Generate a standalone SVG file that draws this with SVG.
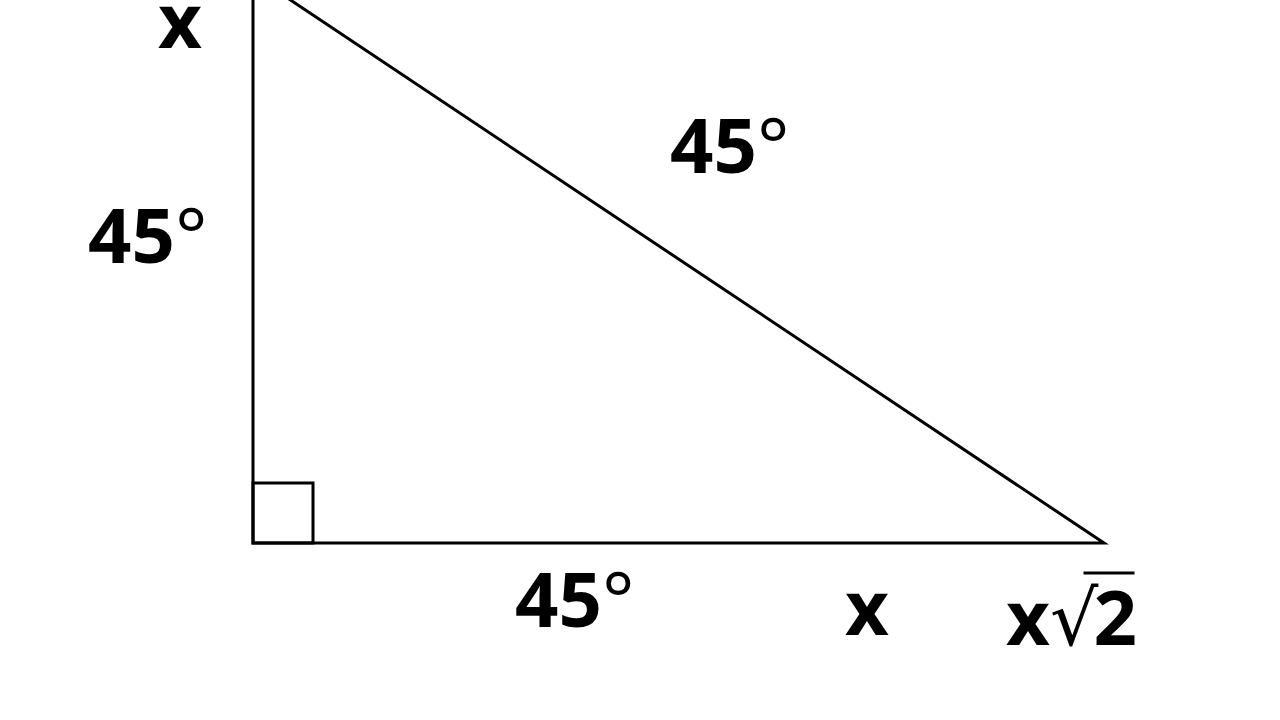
<svg xmlns="http://www.w3.org/2000/svg" width="1280" height="720" viewBox="0 0 1280 720">
<style>
.ln{fill:none;stroke:#000;stroke-width:3;stroke-linejoin:miter;stroke-linecap:square}
.lb{font-family:"Open Sans","DejaVu Sans",sans-serif;font-weight:bold;font-size:76px;fill:#000}
.dg{font-weight:normal}
.rt{font-family:"DejaVu Sans",sans-serif;font-weight:normal}
</style>
<rect width="1280" height="720" fill="#fff"/>
<g id="triangle">
<path class="ln" d="M253,-25 L253,543 L1104,543 Z"/>
<rect class="ln" x="253" y="483" width="60" height="60"/>
</g>
<g id="labels">
<text class="lb" x="158" y="48">x</text>
<text class="lb" x="670" y="173">45<tspan class="dg">°</tspan></text>
<text class="lb" x="88" y="263">45<tspan class="dg">°</tspan></text>
<text class="lb" x="515" y="627">45<tspan class="dg">°</tspan></text>
<text class="lb" x="845" y="635">x</text>
<text class="lb" x="1006" y="645">x<tspan class="rt">√</tspan><tspan dx="-5">2</tspan></text>
<line class="ln" x1="1085" y1="573" x2="1133" y2="573"/>
</g>
</svg>
